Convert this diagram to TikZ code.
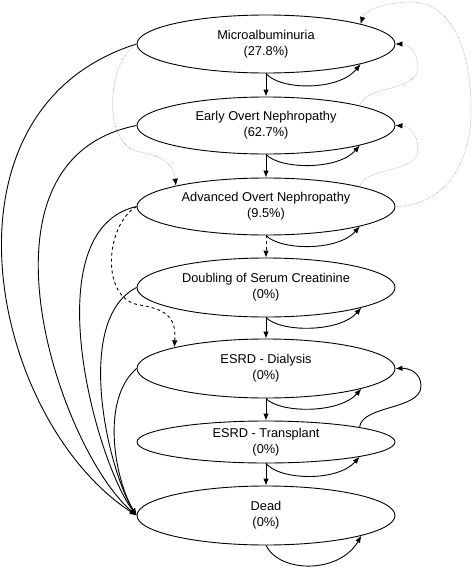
\documentclass[tikz,border=0pt]{standalone}
\usepackage{fontspec}
\setmainfont{Liberation Sans}
\usetikzlibrary{shapes.geometric,arrows.meta}
\begin{document}
\begin{tikzpicture}[x=1pt,y=-1pt,
  state/.style={ellipse,draw,line width=0.9pt,minimum width=258pt,minimum height=58pt,inner sep=0pt,align=center,font=\fontsize{12.8}{16}\selectfont},
  arr/.style={line width=0.9pt,-{Latex[length=7pt,width=5.5pt]}},
  garr/.style={line width=0.6pt,draw=gray!75,densely dotted,-{Latex[length=7pt,width=5.5pt,color=black]}},
  darr/.style={line width=0.9pt,dashed,-{Latex[length=7pt,width=5.5pt]}}]
\useasboundingbox (0,0) rectangle (474,571);
\node[state] (m) at (266,44) {Microalbuminuria\\(27.8\%)};
\node[state,minimum height=57pt] (e) at (266,125.5) {Early Overt Nephropathy\\(62.7\%)};
\node[state,minimum height=57pt] (a) at (266,206.5) {Advanced Overt Nephropathy\\(9.5\%)};
\node[state,minimum height=59pt] (d) at (266,287.5) {Doubling of Serum Creatinine\\(0\%)};
\node[state,minimum height=59pt] (s) at (266,368.5) {ESRD - Dialysis\\(0\%)};
\node[state,minimum height=42pt] (t) at (266,442) {ESRD - Transplant\\(0\%)};
\node[state,minimum height=59pt] (x) at (266,515.5) {Dead\\(0\%)};
% vertical
\draw[arr] (m.south) -- (e.north);
\draw[arr] (e.south) -- (a.north);
\draw[darr] (a.south) -- (d.north);
\draw[arr] (d.south) -- (s.north);
\draw[arr] (s.south) -- (t.north);
\draw[arr] (t.south) -- (x.north);
% self loops
\draw[arr] (m.south) .. controls +(14,17) and +(-22,27) .. (m.-12.75);
\draw[arr] (e.south) .. controls +(14,15) and +(-22,25) .. (e.-12.5);
\draw[arr] (a.south) .. controls +(14,15) and +(-22,25) .. (a.-12.5);
\draw[arr] (d.south) .. controls +(14,15) and +(-22,25) .. (d.-12.8);
\draw[arr] (s.south) .. controls +(14,15) and +(-22,25) .. (s.-12.8);
\draw[arr] (t.south) .. controls +(14,17) and +(-22,25) .. (t.-9.3);
\draw[arr] (x.south) .. controls +(14,28) and +(-22,38) .. (x.-12.8);
% left curves to dead
\draw[arr] (m.west) .. controls (-73,110) and (-10,420) .. (x.west);
\draw[arr] (e.west) .. controls (-39,160) and (60,450) .. (x.west);
\draw[arr] (a.west) .. controls (33,230) and (95,460) .. (x.west);
\draw[arr] (d.west) .. controls (73,320) and (108,470) .. (x.west);
\draw[arr] (s.west) .. controls (100,400) and (115,480) .. (x.west);
% dashed advanced -> dialysis
\draw[darr] (a.west) .. controls (105,225) and (100,300) .. (140,305) .. controls (170,310) and (176,320) .. (s.167);
% gray dotted
\draw[garr] (m.west) .. controls (108,60) and (100,145) .. (140,152) .. controls (168,157) and (174,168) .. (a.167.7);
\draw[garr] (e.12.5) .. controls (365,85) and (420,92) .. (418,66) .. controls (417,50) and (408,44) .. (m.east);
\draw[garr] (a.12.5) .. controls (365,166) and (420,174) .. (418,148) .. controls (417,132) and (408,126) .. (e.east);
\draw[garr] (a.east) .. controls (440,206) and (471,170) .. (471,110) .. controls (471,30) and (440,2) .. (412,2) .. controls (385,2) and (365,10) .. (m.12.75);
% transplant -> dialysis
\draw[arr] (t.9.3) .. controls (362,405) and (421,410) .. (421,386) .. controls (421,372) and (408,368) .. (s.east);
\end{tikzpicture}
\end{document}
